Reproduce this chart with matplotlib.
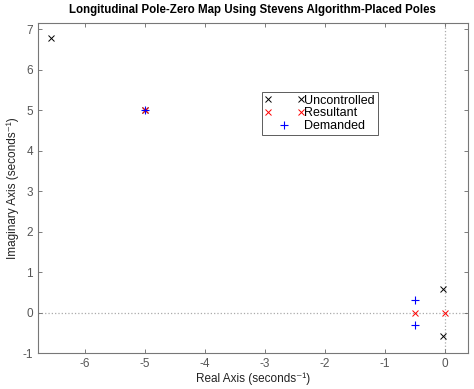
import matplotlib.pyplot as plt
from matplotlib.legend_handler import HandlerLine2D

plt.rcParams['font.family'] = ['Liberation Sans', 'DejaVu Sans']
plt.rcParams['axes.unicode_minus'] = False

# pole locations (real, imaginary)
uncontrolled_re = [-6.57, -5.0, -0.03, -0.03]
uncontrolled_im = [6.78, 5.0, 0.57, -0.57]
resultant_re = [-5.0, -0.5, 0.0]
resultant_im = [5.0, 0.0, 0.0]
demanded_re = [-5.0, -0.5, -0.5]
demanded_im = [5.0, 0.3, -0.3]

xticks = [-6, -5, -4, -3, -2, -1, 0]
yticks = [-1, 0, 1, 2, 3, 4, 5, 6, 7]

fig = plt.figure(figsize=(4.74, 3.89), dpi=100)
ax = fig.add_axes([0.080, 0.0925, 0.907, 0.8485])

ax.axhline(0, color='#aaaaaa', ls=':', lw=0.9, zorder=0)
ax.axvline(0, color='#aaaaaa', ls=':', lw=0.9, zorder=0)

h1, = ax.plot(uncontrolled_re, uncontrolled_im, 'x', color='black', ms=4.5, mew=0.7,
              label='Uncontrolled')
h2, = ax.plot(resultant_re, resultant_im, 'x', color='red', ms=4.5, mew=0.7,
              label='Resultant')
h3, = ax.plot(demanded_re, demanded_im, '+', color='blue', ms=6, mew=0.8,
              label='Demanded')

ax.set_xlim(-6.78, 0.38)
ax.set_ylim(-1, 7.15)
ax.set_xticks(xticks)
ax.set_yticks(yticks)
ax.tick_params(direction='in', top=True, right=True, length=3, width=0.6,
               colors='#666666', labelsize=8.5, labelcolor='#555555')
for s in ax.spines.values():
    s.set_color('#777777')
    s.set_linewidth(0.8)

ax.set_xlabel('Real Axis (seconds\u207b\u00b9)', fontsize=8.5, color='#222222')
ax.set_ylabel('Imaginary Axis (seconds\u207b\u00b9)', fontsize=8.5, color='#222222')
ax.xaxis.set_label_coords(0.5, -0.058)
ax.yaxis.set_label_coords(-0.044, 0.5)
ax.set_title('Longitudinal Pole-Zero Map Using Stevens Algorithm-Placed Poles',
             fontsize=8.3, fontweight='bold', pad=7)

leg = ax.legend(handles=[h1, h2, h3], loc='upper left', bbox_to_anchor=(0.521, 0.79),
                numpoints=2, fontsize=9, frameon=True, fancybox=False,
                edgecolor='#333333', handlelength=3.2, handletextpad=0.0,
                borderpad=0.2, labelspacing=0.05, borderaxespad=0,
                handler_map={h3: HandlerLine2D(numpoints=1)})
leg.get_frame().set_linewidth(0.7)

fig.savefig('out.png', dpi=100)
